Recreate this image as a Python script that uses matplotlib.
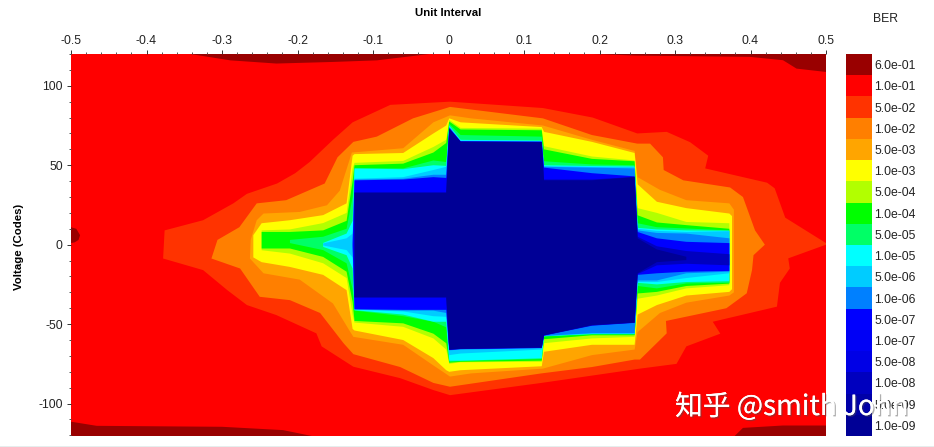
import numpy as np
import matplotlib
matplotlib.use("Agg")
import matplotlib.pyplot as plt
import matplotlib.patheffects as pe
from matplotlib.colors import ListedColormap
from matplotlib.ticker import MultipleLocator, FormatStrFormatter

n = np.nan

# ==== ticks ====
x_ticks = [-.5, -.4, -.3, -.2, -.1, 0, .1, .2, .3, .4, .5]
x_tick_labels = ["-0.5", "-0.4", "-0.3", "-0.2", "-0.1", "0", "0.1", "0.2", "0.3", "0.4", "0.5"]

# ==== colour bar ====
ber_labels = ["6.0e-01", "1.0e-01", "5.0e-02", "1.0e-02", "5.0e-03", "1.0e-03",
              "5.0e-04", "1.0e-04", "5.0e-05", "1.0e-05", "5.0e-06", "1.0e-06",
              "5.0e-07", "1.0e-07", "5.0e-08", "1.0e-08", "5.0e-09", "1.0e-09"]
ber_colors = ["#990000", "#ff0000", "#ff3300", "#ff7f00", "#ffa500", "#ffff00",
              "#b2ff00", "#00ff00", "#00ff66", "#00ffff", "#00ccff", "#0080ff",
              "#0000ff", "#0000f5", "#0000e6", "#0000bf", "#0000a8", "#000096"]

# ==== BER > 6e-1 patches (UI, codes) ====
x_top_l = [-.342, -.289, -.228, -.153, -.095, -.025]
y_top_l = [120, 116, 114, 115, 116, 120]
x_top_r = [.191, .249, .399, .443, .461, .5, .5]
y_top_r = [120, 119, 118.2, 116.1, 110.8, 108.7, 120]
x_bot_l = [-.5, -.466, -.3, -.219, -.181, -.5]
y_bot_l = [-111.4, -114, -114.6, -116.7, -120.4, -120.4]
x_bot_r = [.379, .39, .443, .5, .5]
y_bot_r = [-120.4, -115.3, -113.8, -113.8, -120.4]
x_blob = [-.5, -.493, -.488, -.49, -.495, -.5]
y_blob = [11, 10, 6, 3, 1.5, 1]

# ==== outer contours, voltage at which BER crosses the level ====
x_5e2_up = [-.376, -.325, -.285, -.267, -.227, -.203, -.184, -.153, -.127, -.077, .002, .125, .191, .25, .289, .32, .344, .34, .422, .432, .446, .5]
y_5e2_up = [9, 15.4, 26, 32, 38.5, 45, 52, 66, 77, 88, 90, 86, 80, 70, 71, 64.5, 56, 48, 39, 35.5, 17, 1]
x_5e2_lo = [-.378, -.325, -.293, -.267, -.228, -.175, -.168, -.126, -.064, -.02, .002, .123, .2536, .302, .315, .36, .35, .435, .439, .452, .45, .5]
y_5e2_lo = [-8.7, -16, -28.6, -38, -44.3, -55.8, -64, -76.8, -84, -91.5, -94.7, -87, -78, -75, -64, -56, -48.5, -39, -24, -15, -8.6, 0]

x_1e2_up = [-.306, -.277, -.254, -.215, -.164, -.147, -.126, -.095, -.047, .002, .125, .19, .25, .267, .284, .285, .311, .373, .39, .406, .419]
y_1e2_up = [3, 11, 26, 28, 38.5, 55, 64.7, 68, 79.5, 86.7, 79.5, 69, 63.6, 63.6, 55, 47, 40.5, 36, 30, 9, 0]
x_1e2_lo = [-.314, -.276, -.25, -.21, -.17, -.139, -.126, -.064, -.02, .002, .123, .19, .2465, .2536, .289, .288, .368, .395, .402, .404, .419]
y_1e2_lo = [-8.7, -15, -32.8, -34.9, -43, -62, -68.9, -77, -87, -89.4, -81, -77, -72.3, -72.3, -55.8, -48, -40, -30.6, -16, -6.6, 0]

x_5e3_up = [-.262, -.254, -.245, -.197, -.161, -.144, -.128, -.06, -.02, .002, .03, .125, .19, .2465, .2505, .28, .315, .372, .378]
y_5e3_up = [3, 15.4, 19.6, 20.6, 24.8, 34, 58, 60.7, 77, 81.4, 79.5, 75, 66, 59, 42.5, 34.5, 28, 26, 22]
x_5e3_lo = [-.263, -.245, -.197, -.153, -.13, -.126, -.06, -.02, .002, .03, .125, .19, .2465, .2505, .28, .315, .372, .378]
y_5e3_lo = [-8.7, -18, -22, -37, -55, -58, -63, -76, -83, -81, -78, -69.5, -66, -55, -43, -36.5, -32, -30]

# ==== inner contours on shared columns ====
x_core = [-.2585, -.2475, -.21, -.166, -.135, -.127, -.1245, -.06, -.02, -.003, .001, .016, .1235, .1265, .19, .2465, .2505, .276, .315, .372, .3755]

up_1e3 = [6, 13.5, 15.4, 18.6, 26, 56, 57, 57.7, 70, 75, 79.5, 77, 74, 71, 64.7, 57.7, 38, 27, 23, 19.6, 18]
lo_1e3 = [-8, -11, -14, -19, -28.6, -53, -54, -60, -71.4, -79, -80, -79, -76.5, -67.4, -63, -63, -44, -38, -32, -29.7, -28]
up_5e4 = [n, 9, 9.6, 13.6, 20, 48, 51.5, 52.7, 61.5, 66, 78.5, 73.5, 73, 62, 55.5, 53, 23, 20, 14.3, 13.5, n]
lo_5e4 = [n, -3.5, -5.6, -11.7, -21, -44, -49, -51.7, -59, -66, -75, -74, -73.7, -62, -59, -58, -34, -32, -27.5, -25.5, n]
up_1e4 = [n, 8, 8, 9, 15, 40, 50, 51, 58, 64, 77.5, 72.5, 72, 60, 54, 52.5, 18.5, 14, 12.3, 10, n]
lo_1e4 = [n, -2.4, -2.4, -7.7, -17, -36, -48, -49.5, -56, -62, -74.3, -73.7, -73, -59.5, -57, -57, -30.7, -29.7, -26, -24.5, n]
up_5e5 = [n, n, 3, 5, 10, 30, 48.3, 48, 53, 52, 76, 69, 68, 52.5, 50.5, 50, 13.5, 11, 10.2, 9, n]
lo_5e5 = [n, n, 1, -3.4, -11.7, -28, -41.5, -45, -48.5, -52, -73.7, -73.3, -72, -57.8, -56.5, -56.5, -26, -27.5, -24.4, -24, n]
up_1e5 = [n, n, n, 1.1, 7, 15, 47.9, 47.5, 50, 49.6, 75, 66, 65.5, 50, 49.5, 49.2, 10.6, 9.6, 9, 8.8, n]
lo_1e5 = [n, n, n, -1.4, -6.6, -15, -41.2, -44, -48.5, -48.5, -73, -73, -71.5, -57.6, -56.2, -56.2, -24, -25, -23.5, -23, n]
up_5e6 = [n, n, n, .8, 4, 7, 41.5, 42.5, 47, 49, 74.5, 65.5, 65.2, 49.5, 49, 49, 10, 8.7, 8, 8.5, n]
lo_5e6 = [n, n, n, -.5, -3.4, -8, -41, -42, -45, -45.4, -69.5, -68.5, -66, -57.5, -56, -56, -23.5, -23.5, -21, -18, n]
up_1e6 = [n, n, n, n, n, 1.5, 41, 41.5, 44, 44, 74, 65.2, 65, 49, 48.5, 48, 9, 7.4, 7, 4, n]
lo_1e6 = [n, n, n, n, n, -1.5, -40.8, -41.5, -41.5, -43, -66.5, -66, -65.2, -57.4, -55.7, -55.7, -22.5, -22.5, -18, -17, n]
up_5e7 = [n, n, n, n, n, .7, 40.5, 41, 42.5, 42, 73.5, 65, 64.8, 48.5, 45, 43, 8, 4, 1.8, 1, n]
lo_5e7 = [n, n, n, n, n, -.7, -40.6, -41, -41, -41, -66.3, -65.7, -65, -57.2, -51, -49.2, -19, -18, -17, -16.5, n]
up_1e8 = [n, n, n, n, n, n, 33, 33, 33, 33, 73.2, 64.9, 64.6, 41, 41, 42.7, 5, -1, -4, -6, n]
lo_1e8 = [n, n, n, n, n, n, -33.4, -33.4, -33.4, -33.4, -66.1, -65.6, -64.8, -57.1, -50.8, -49.1, -18.5, -13, -12, -13, n]
up_1e9 = [n, n, n, n, n, n, 32.6, 32.6, 32.6, 32.6, 73, 64.8, 64.5, 40.5, 40.5, 42.5, 4, -3, -7.6, n, n]
lo_1e9 = [n, n, n, n, n, n, -33, -33, -33, -33, -66, -65.5, -64.7, -57, -50.6, -49, -18, -11, -9.7, n, n]


def fill_band(ax, xu, yu, xl, yl, color):
    # closed polygon: along the upper crossing, back along the lower one
    xu, yu, xl, yl = map(np.asarray, (xu, yu, xl, yl))
    ok_u, ok_l = ~np.isnan(yu), ~np.isnan(yl)
    xs = np.r_[xu[ok_u], xl[ok_l][::-1]]
    ys = np.r_[yu[ok_u], yl[ok_l][::-1]]
    ax.fill(xs, ys, color=color, lw=0)


W, H = 934, 447
fig = plt.figure(figsize=(W / 100, H / 100), dpi=100, facecolor="white")
plt.rcParams["font.family"] = ["Liberation Sans", "DejaVu Sans"]

ax = fig.add_axes([71 / W, 1 - 436 / H, 755 / W, 382 / H])
ax.set_facecolor(ber_colors[1])
ax.set_xlim(-0.5, 0.5)
ax.set_ylim(-120.4, 120)

# dark red patches on the red background
for xs, ys in [(x_top_l, y_top_l), (x_top_r, y_top_r), (x_bot_l, y_bot_l), (x_bot_r, y_bot_r), (x_blob, y_blob)]:
    ax.fill(xs, ys, color=ber_colors[0], lw=0)

# contours, outermost first
fill_band(ax, x_5e2_up, y_5e2_up, x_5e2_lo, y_5e2_lo, ber_colors[2])
fill_band(ax, x_1e2_up, y_1e2_up, x_1e2_lo, y_1e2_lo, ber_colors[3])
fill_band(ax, x_5e3_up, y_5e3_up, x_5e3_lo, y_5e3_lo, ber_colors[4])

core_levels = [(up_1e3, lo_1e3, 5), (up_5e4, lo_5e4, 6), (up_1e4, lo_1e4, 7), (up_5e5, lo_5e5, 8),
               (up_1e5, lo_1e5, 9), (up_5e6, lo_5e6, 10), (up_1e6, lo_1e6, 11), (up_5e7, lo_5e7, 12),
               (up_1e8, lo_1e8, 15), (up_1e9, lo_1e9, 17)]
for up, lo, c_idx in core_levels:
    fill_band(ax, x_core, up, x_core, lo, ber_colors[c_idx])

# axes: x on top, y on left, no frame
for s in ax.spines.values():
    s.set_visible(False)
ax.xaxis.set_ticks_position("top")
ax.set_xticks(x_ticks, x_tick_labels)
ax.xaxis.set_minor_locator(MultipleLocator(0.02))
ax.yaxis.set_major_locator(MultipleLocator(50))
ax.yaxis.set_major_formatter(FormatStrFormatter("%d"))
ax.yaxis.set_minor_locator(MultipleLocator(10))
ax.tick_params(which="major", length=2.6, width=0.7, color="#333333", labelsize=8.85, labelcolor="#222222")
ax.tick_params(axis="x", which="major", pad=2.4)
ax.tick_params(axis="y", which="major", pad=3.4)
ax.tick_params(which="minor", length=1.6, width=0.7, color="#555555")

fig.text(448 / W, 1 - 13 / H, "Unit Interval", ha="center", va="center", fontsize=8.2, fontweight="bold")
fig.text(19 / W, 1 - 247 / H, "Voltage (Codes)", ha="center", va="center", rotation=90, fontsize=8.2, fontweight="bold")
fig.text(886 / W, 1 - 19 / H, "BER", ha="center", va="center", fontsize=8.85, color="#222222")

# colour bar
cax = fig.add_axes([846 / W, 1 - 436 / H, 26 / W, 382 / H])
cells = np.arange(len(ber_labels))
cax.imshow(cells.reshape(-1, 1), cmap=ListedColormap(ber_colors), aspect="auto", interpolation="nearest")
for s in cax.spines.values():
    s.set_visible(False)
cax.set_xticks([])
cax.yaxis.tick_right()
cax.set_yticks(cells, ber_labels)
cax.tick_params(length=0, labelsize=8.85, pad=1.5, labelcolor="#222222")

# watermark
fig.text(675 / W, 1 - 407 / H, "知乎 @smith John", ha="left", va="center", fontsize=20, color="white",
         family=["Noto Sans CJK SC", "DejaVu Sans"],
         path_effects=[pe.withSimplePatchShadow(offset=(1, -1), alpha=0.45), pe.Normal()])

# pale strip along the bottom edge
fig.patches.append(plt.Rectangle((0, 0), 1, 1.5 / H, transform=fig.transFigure, color="#e6eded", lw=0))

fig.savefig("out.png", dpi=100)
